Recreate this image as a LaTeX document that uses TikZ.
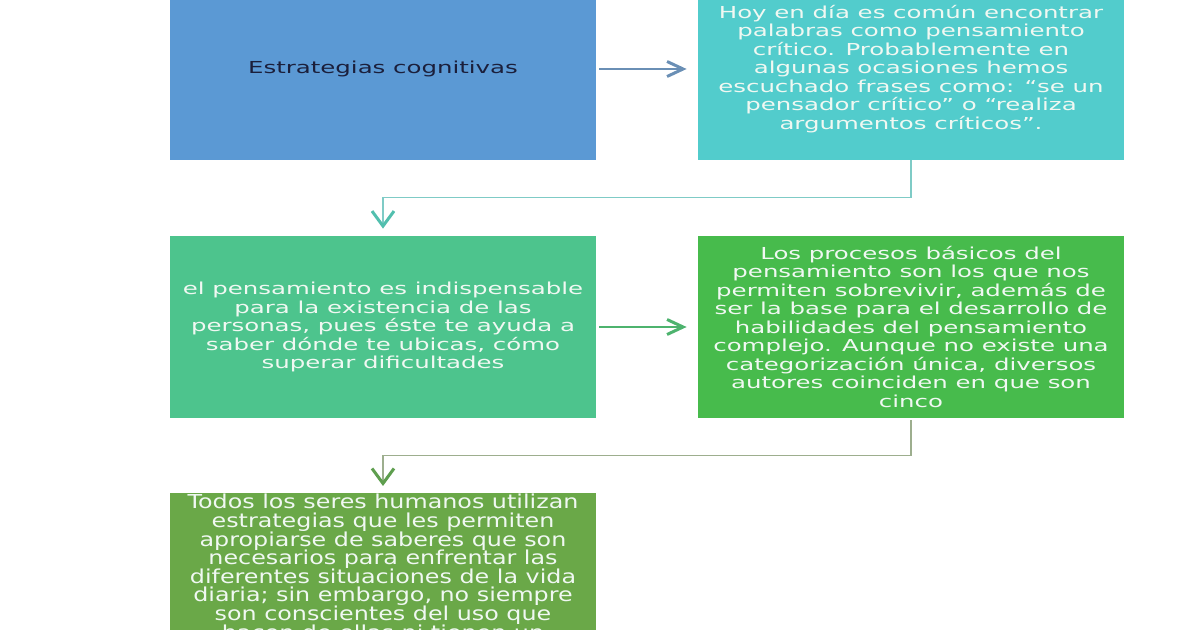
\documentclass[tikz,border=0pt]{standalone}
\usepackage{fontspec}
\usepackage{tikz}
\usetikzlibrary{arrows.meta}
\setmainfont{DejaVu Sans}
\newfontfamily\widefont[FakeStretch=1.48]{DejaVu Sans}
\newfontfamily\narrowfont[FakeStretch=1.24]{DejaVu Sans}
\definecolor{cogblue}{HTML}{5B99D4}
\definecolor{critteal}{HTML}{52CCCC}
\definecolor{thinkgreen}{HTML}{4DC48D}
\definecolor{basicgreen}{HTML}{47BB4C}
\definecolor{humanolive}{HTML}{6AA848}
\definecolor{darktext}{HTML}{1B1F3B}
\definecolor{lighttext}{HTML}{F0F8F2}
\definecolor{bluelink}{HTML}{6A8FB5}
\definecolor{teallink}{HTML}{7FCBC6}
\definecolor{tealtip}{HTML}{52BFAE}
\definecolor{greenlink}{HTML}{4DB36E}
\definecolor{greylink}{HTML}{9DAE8E}
\definecolor{olivetip}{HTML}{5E9E4E}
\tikzset{box/.style = {rectangle, inner sep=0pt, minimum width=213pt, minimum height=91pt,
    align=center, text=lighttext, font=\widefont\fontsize{8.25}{9.25}\selectfont},
  link/.style = {line width=0.7pt},
  barbh/.tip = {Straight Barb[length=8pt,width=7.5pt,line width=1.5pt]},
  barbv/.tip = {Straight Barb[length=7.5pt,width=11pt,line width=1.5pt]}}

\begin{document}
\begin{tikzpicture}[x=0.5pt,y=-0.5pt]
      \useasboundingbox (0,0) rectangle (1200,630);
      \clip (0,0) rectangle (1200,630);
      \node [box, fill=cogblue, text=darktext] (cog) at (383,69) {Estrategias cognitivas};
      \node [box, fill=critteal] (crit) at (911,69) {Hoy en día es común encontrar\\
        palabras como pensamiento\\ crítico. Probablemente en\\ algunas ocasiones hemos\\
        escuchado frases como: “se un\\ pensador crítico” o “realiza\\ argumentos críticos”.};
      \node [box, fill=thinkgreen] (think) at (383,327) {el pensamiento es indispensable\\
        para la existencia de las\\ personas, pues éste te ayuda a\\ saber dónde te ubicas, cómo\\
        superar dificultades};
      \node [box, fill=basicgreen] (basic) at (911,327) {Los procesos básicos del\\
        pensamiento son los que nos\\ permiten sobrevivir, además de\\ ser la base para el desarrollo de\\
        habilidades del pensamiento\\ complejo. Aunque no existe una\\ categorización única, diversos\\
        autores coinciden en que son\\ cinco};
      \node [box, fill=humanolive, anchor=north, minimum height=0pt, inner ysep=0.5pt,
        font=\narrowfont\fontsize{9.6}{9.3}\selectfont] (human) at (383,493)
        {Todos los seres humanos utilizan\\ estrategias que les permiten\\
        apropiarse de saberes que son\\ necesarios para enfrentar las\\
        diferentes situaciones de la vida\\ diaria; sin embargo, no siempre\\
        son conscientes del uso que\\ hacen de ellas ni tienen un};
      % links between the boxes
      \draw [link, bluelink, -{barbh}, shorten <=1.5pt, shorten >=5.5pt] (cog.east) -- (crit.west);
      \draw [link, greenlink, -{barbh}, shorten <=1.5pt, shorten >=5.5pt] (think.east) -- (basic.west);
      \draw [link, teallink, -{barbv[color=tealtip]}, shorten >=3.5pt] (crit.south) -- ++(0,37) -| (think.north);
      \draw [link, greylink, -{barbv[color=olivetip]}, shorten <=1pt, shorten >=3.5pt] (basic.south) -- ++(0,37) -| (human.north);
    \end{tikzpicture}
\end{document}
